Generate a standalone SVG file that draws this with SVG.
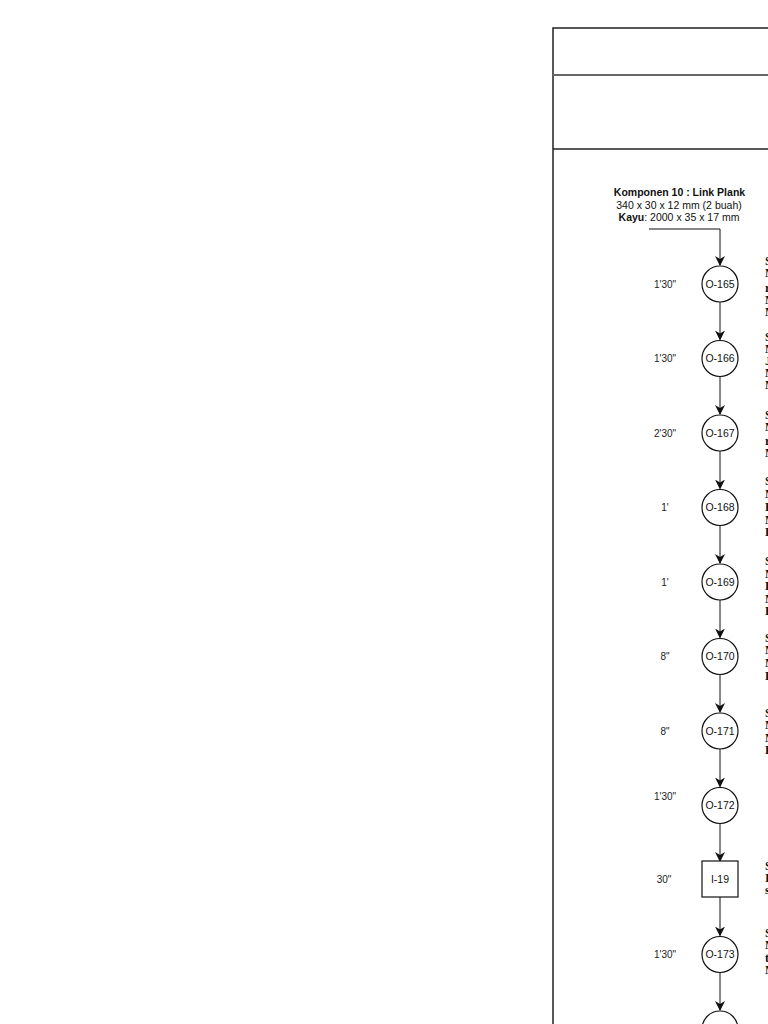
<svg xmlns="http://www.w3.org/2000/svg" width="768" height="1024" viewBox="0 0 768 1024">
<defs>
<style>
.frame{fill:none;stroke:#222;stroke-width:1.5}
.node{fill:#fff;stroke:#111;stroke-width:1.2}
.lbl{font-family:"Liberation Sans",Arial,sans-serif;font-size:10.5px;fill:#111;text-anchor:middle}
.time{font-family:"Liberation Sans",Arial,sans-serif;font-size:10px;fill:#222;text-anchor:middle}
.hd{font-family:"Liberation Sans",Arial,sans-serif;font-size:10.5px;fill:#111;text-anchor:middle}
.cut{font-family:"Liberation Serif","Times New Roman",serif;font-size:12px;font-weight:bold;fill:#111}
.edge{fill:none;stroke:#111;stroke-width:1}
</style>
<marker id="arr" markerWidth="10" markerHeight="10" refX="9" refY="5" orient="auto" markerUnits="userSpaceOnUse">
<path d="M0,0 L10,5 L0,10 L3,5 Z" fill="#111"/>
</marker>
</defs>
<rect width="768" height="1024" fill="#fff"/>
<g id="frame">
<path class="frame" d="M553,1024 V28 H768"/>
<line x1="553" y1="75" x2="768" y2="75" stroke="#666" stroke-width="2"/>
<line x1="553" y1="149" x2="768" y2="149" stroke="#222" stroke-width="1.5"/>
</g>
<g id="header">
<text class="hd" x="679.5" y="196" font-weight="bold">Komponen 10 : Link Plank</text>
<text class="hd" x="679" y="209">340 x 30 x 12 mm  (2 buah)</text>
<text class="hd" x="679" y="221"><tspan font-weight="bold">Kayu</tspan>: 2000 x 35  x 17 mm</text>
</g>
<g id="connectors">
<path class="edge" d="M649,229 H720 V265" marker-end="url(#arr)"/>
<line class="edge" x1="720" y1="302" x2="720" y2="339.5" marker-end="url(#arr)"/>
<line class="edge" x1="720" y1="376.5" x2="720" y2="414" marker-end="url(#arr)"/>
<line class="edge" x1="720" y1="451" x2="720" y2="488.5" marker-end="url(#arr)"/>
<line class="edge" x1="720" y1="525.5" x2="720" y2="563" marker-end="url(#arr)"/>
<line class="edge" x1="720" y1="600" x2="720" y2="637.5" marker-end="url(#arr)"/>
<line class="edge" x1="720" y1="674.5" x2="720" y2="712" marker-end="url(#arr)"/>
<line class="edge" x1="720" y1="749" x2="720" y2="786.5" marker-end="url(#arr)"/>
<line class="edge" x1="720" y1="823.5" x2="720" y2="861" marker-end="url(#arr)"/>
<line class="edge" x1="720" y1="897" x2="720" y2="935.5" marker-end="url(#arr)"/>
<line class="edge" x1="720" y1="972.5" x2="720" y2="1010" marker-end="url(#arr)"/>
</g>
<g id="n165"><circle class="node" cx="720" cy="284" r="18"/><text class="lbl" x="720" y="287.5">O-165</text><text class="time" x="665" y="287.5">1'30"</text></g>
<g id="n166"><circle class="node" cx="720" cy="358.5" r="18"/><text class="lbl" x="720" y="362">O-166</text><text class="time" x="665" y="362">1'30"</text></g>
<g id="n167"><circle class="node" cx="720" cy="433" r="18"/><text class="lbl" x="720" y="436.5">O-167</text><text class="time" x="665" y="436.5">2'30"</text></g>
<g id="n168"><circle class="node" cx="720" cy="507.5" r="18"/><text class="lbl" x="720" y="511">O-168</text><text class="time" x="665" y="511">1'</text></g>
<g id="n169"><circle class="node" cx="720" cy="582" r="18"/><text class="lbl" x="720" y="585.5">O-169</text><text class="time" x="665" y="585.5">1'</text></g>
<g id="n170"><circle class="node" cx="720" cy="656.5" r="18"/><text class="lbl" x="720" y="660">O-170</text><text class="time" x="665" y="660">8"</text></g>
<g id="n171"><circle class="node" cx="720" cy="731" r="18"/><text class="lbl" x="720" y="734.5">O-171</text><text class="time" x="665" y="734.5">8"</text></g>
<g id="n172"><circle class="node" cx="720" cy="805.5" r="18"/><text class="lbl" x="720" y="809">O-172</text><text class="time" x="665" y="800">1'30"</text></g>
<g id="i19"><rect class="node" x="702" y="861" width="36" height="36"/><text class="lbl" x="720" y="882.5">I-19</text><text class="time" x="664" y="882.5">30"</text></g>
<g id="n173"><circle class="node" cx="720" cy="954.5" r="18"/><text class="lbl" x="720" y="958">O-173</text><text class="time" x="665" y="958">1'30"</text></g>
<g id="n174"><circle class="node" cx="720" cy="1029" r="18"/></g>
<g id="cut-text">
<text class="cut" x="765" y="265">S</text><text class="cut" x="765" y="277">M</text><text class="cut" x="765" y="292">r</text><text class="cut" x="765" y="304">M</text><text class="cut" x="765" y="316">M</text>
<text class="cut" x="765" y="341">S</text><text class="cut" x="765" y="353">M</text><text class="cut" x="765" y="365">J</text><text class="cut" x="765" y="377">M</text><text class="cut" x="765" y="389">M</text>
<text class="cut" x="765" y="419">S</text><text class="cut" x="765" y="431">M</text><text class="cut" x="765" y="445">r</text><text class="cut" x="765" y="457">M</text>
<text class="cut" x="765" y="485">S</text><text class="cut" x="765" y="498">M</text><text class="cut" x="765" y="511">P</text><text class="cut" x="765" y="524">M</text><text class="cut" x="765" y="536">P</text>
<text class="cut" x="765" y="565">S</text><text class="cut" x="765" y="578">M</text><text class="cut" x="765" y="590">P</text><text class="cut" x="765" y="603">M</text><text class="cut" x="765" y="615">P</text>
<text class="cut" x="765" y="642">S</text><text class="cut" x="765" y="654">M</text><text class="cut" x="765" y="667">M</text><text class="cut" x="765" y="680">P</text>
<text class="cut" x="765" y="717">S</text><text class="cut" x="765" y="729">M</text><text class="cut" x="765" y="742">M</text><text class="cut" x="765" y="754">P</text>
<text class="cut" x="765" y="870">S</text><text class="cut" x="765" y="882">I</text><text class="cut" x="765" y="894">s</text>
<text class="cut" x="765" y="937">S</text><text class="cut" x="765" y="949">M</text><text class="cut" x="765" y="962">t</text><text class="cut" x="765" y="974">M</text>
</g>
</svg>
